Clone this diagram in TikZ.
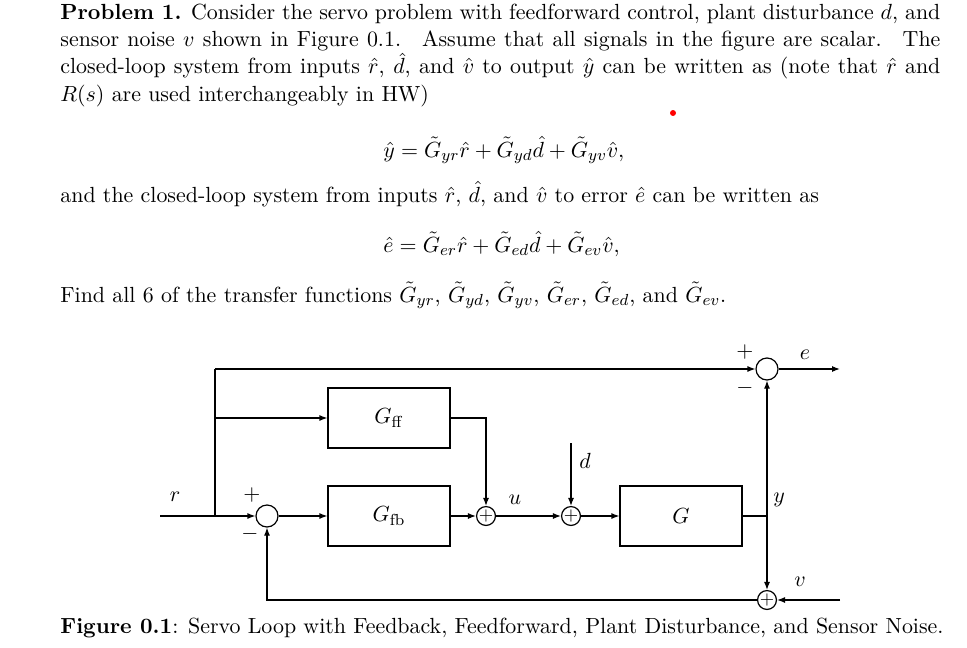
\documentclass[tikz,border=0pt]{standalone}
\usetikzlibrary{arrows.meta}
\begin{document}
\begin{tikzpicture}[x=0.5pt,y=-0.5pt,font=\fontsize{10.95}{13.5}\selectfont,
  txt/.style={anchor=base west,inner sep=0pt},
  lbl/.style={inner sep=0pt},
  blk/.style={draw,line width=0.6pt,minimum width=61pt,minimum height=30pt,inner sep=0pt},
  sumc/.style={draw,circle,line width=0.6pt,minimum size=11pt,inner sep=0pt},
  sump/.style={draw,circle,line width=0.6pt,minimum size=8pt,inner sep=0pt,font=\small},
  ln/.style={line width=0.6pt},
  ar/.style={line width=0.6pt,-{Latex[length=4pt,width=3pt]}}]
\path[fill=white] (0,0) rectangle (967,647);
% text
\node[txt] (l1) at (60,20) {\makebox[440pt][s]{\textbf{Problem 1.} Consider the servo problem with feedforward control, plant disturbance $d$, and}};
\node[txt] (l2) at (60,47) {\makebox[440pt][s]{sensor noise $v$ shown in Figure 0.1. \ Assume that all signals in the figure are scalar. \ The}};
\node[txt] (l3) at (60,74) {\makebox[440pt][s]{closed-loop system from inputs $\hat r$, $\hat d$, and $\hat v$ to output $\hat y$ can be written as (note that $\hat r$ and}};
\node[txt] (l4) at (60,101) {$R(s)$ are used interchangeably in HW)};
\fill[red] (673,113) circle (1.5pt);
\node[txt] (e1) at (383,157) {$\hat y=\tilde G_{yr}\hat r+\tilde G_{yd}\hat d+\tilde G_{yv}\hat v,$};
\node[txt] (l5) at (60,202) {and the closed-loop system from inputs $\hat r$, $\hat d$, and $\hat v$ to error $\hat e$ can be written as};
\node[txt] (e2) at (383,252) {$\hat e=\tilde G_{er}\hat r+\tilde G_{ed}\hat d+\tilde G_{ev}\hat v,$};
\node[txt] (l6) at (60,302) {Find all 6 of the transfer functions $\tilde G_{yr}$, $\tilde G_{yd}$, $\tilde G_{yv}$, $\tilde G_{er}$, $\tilde G_{ed}$, and $\tilde G_{ev}$.};
\node[txt] (cap) at (60,633) {\textbf{Figure 0.1}: Servo Loop with Feedback, Feedforward, Plant Disturbance, and Sensor Noise.};
% diagram
\node[blk] (gff) at (389,418) {$G_{\mathrm{ff}}$};
\node[blk] (gfb) at (389,516) {$G_{\mathrm{fb}}$};
\node[blk] (g) at (681,516) {$G$};
\node[sumc] (s1) at (267,516) {};
\node[sumc] (se) at (767,369) {};
\node[sump] (s2) at (486,516) {$+$};
\node[sump] (s3) at (571,516) {$+$};
\node[sump] (sv) at (767,600) {$+$};
\coordinate (rin) at (160,516);
\coordinate (br) at (215,516);
\coordinate (brt) at (215,369);
\coordinate (brf) at (215,418);
\coordinate (eout) at (840,369);
\coordinate (din) at (571,443);
\coordinate (vin) at (840,600);
\coordinate (yb) at (767,516);
\draw[ar] (rin) -- (s1);
\draw[ln] (br) -- (brt);
\draw[ar] (brt) -- (se);
\draw[ar] (brf) -- (gff);
\draw[ar] (se) -- (eout);
\draw[ar] (s1) -- (gfb);
\draw[ar] (gff.east) -| (s2);
\draw[ar] (gfb) -- (s2);
\draw[ar] (s2) -- (s3);
\draw[ar] (din) -- (s3);
\draw[ar] (s3) -- (g);
\draw[ln] (g) -- (yb);
\draw[ar] (yb) -- (se);
\draw[ar] (yb) -- (sv);
\draw[ar] (vin) -- (sv);
\draw[ar] (sv) -| (s1);
% labels
\node[lbl] at (175,497) {$r$};
\node[lbl] at (252,495) {$+$};
\node[lbl] at (250,534) {$-$};
\node[lbl] at (745,352) {$+$};
\node[lbl] at (745,388) {$-$};
\node[lbl] at (805,355) {$e$};
\node[lbl] at (515,500) {$u$};
\node[lbl] at (585,461) {$d$};
\node[lbl] at (779,500) {$y$};
\node[lbl] at (800,582) {$v$};
\end{tikzpicture}
\end{document}
